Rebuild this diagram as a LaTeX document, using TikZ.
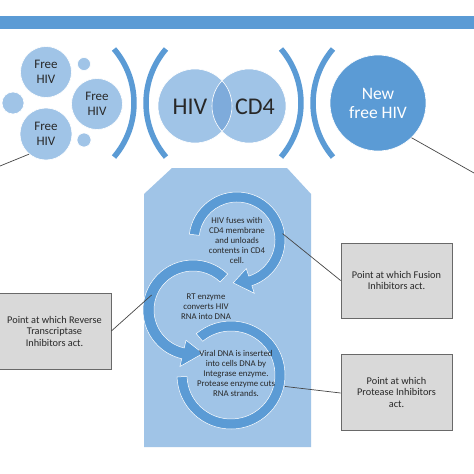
\documentclass[tikz,border=0pt]{standalone}
\usepackage{fontspec}
\setmainfont{Carlito}
\usetikzlibrary{calc}
\definecolor{arcblue}{RGB}{91,155,213}
\definecolor{lightblue}{RGB}{160,196,231}
\definecolor{panelblue}{RGB}{160,196,231}
\definecolor{lensblue}{RGB}{126,171,219}
\definecolor{boxgray}{RGB}{217,217,217}
\definecolor{boxline}{RGB}{105,105,105}
\definecolor{txt}{RGB}{40,40,40}
\definecolor{conn}{RGB}{70,70,70}
\tikzset{
  bubble/.style={circle, fill=lightblue, draw=white, line width=0.6pt, inner sep=0pt, text=txt, align=center},
  freetxt/.style={font=\fontsize{13}{15}\selectfont},
  bigtxt/.style={font=\fontsize{24}{28}\selectfont},
  bracket/.style={draw=arcblue, line width=5.5pt},
  ring/.style={fill=arcblue, draw=white, line width=0.5pt},
  paneltxt/.style={text=txt, align=center, font=\fontsize{8.8}{10}\selectfont},
  graybox/.style={fill=boxgray, draw=boxline, line width=0.8pt, text=txt, align=center, font=\fontsize{10.3}{11.5}\selectfont, inner sep=0pt},
  connector/.style={draw=conn, line width=0.7pt}
}
\begin{document}
\begin{tikzpicture}[x=1pt,y=-1pt]
\useasboundingbox (0,0) rectangle (474,474);
\fill[white] (0,0) rectangle (474,474);
% top bar
\fill[arcblue] (0,16) rectangle (474,29);
% small bubbles
\node[bubble, minimum size=13pt] (s1) at (84,64) {};
\node[bubble, minimum size=22pt] (s2) at (13,103) {};
\node[bubble, minimum size=14pt] (s3) at (84,140) {};
% free HIV bubbles
\node[bubble, freetxt, minimum size=51pt] (f1) at (46,72) {Free\\HIV};
\node[bubble, freetxt, minimum size=51pt] (f2) at (97,104) {Free\\HIV};
\node[bubble, freetxt, minimum size=52pt] (f3) at (46,134) {Free\\HIV};
% brackets
\draw[bracket] (114,49) arc[start angle=-40.6, end angle=40.6, radius=83];
\draw[bracket] (166,49) arc[start angle=220.6, end angle=139.4, radius=83];
\draw[bracket] (281,49) arc[start angle=-40.6, end angle=40.6, radius=83];
\draw[bracket] (333,49) arc[start angle=220.6, end angle=139.4, radius=83];
% HIV and CD4
\fill[lightblue] (195,106) circle[radius=37];
\fill[lightblue] (249,106) circle[radius=37];
\begin{scope}
\clip (195,106) circle[radius=37];
\fill[lensblue] (249,106) circle[radius=37];
\end{scope}
\draw[white, line width=0.6pt] (195,106) circle[radius=37];
\draw[white, line width=0.6pt] (249,106) circle[radius=37];
\node[text=txt, bigtxt] (hiv) at (190,107) {HIV};
\node[text=txt, bigtxt] (cd4) at (255,107) {CD4};
% New free HIV
\node[circle, fill=arcblue, draw=white, line width=0.6pt, minimum size=96pt, inner sep=0pt, text=white, align=center, font=\fontsize{17.5}{19}\selectfont] (nf) at (378,103) {New\\free HIV};
% panel
\fill[panelblue] (172,168) -- (287,168) -- (311,194) -- (311,447) -- (144,447) -- (144,194) -- cycle;
% ring arrows
\coordinate (c1) at (237,240);
\coordinate (c2) at (193,310);
\coordinate (c3) at (231,375);
\fill[ring] ($(c3)+(230:44)$) -- ($(c3)+(230:54)$) arc[start angle=230, end angle=538, radius=54]
  -- ($(c3)+(538:44)$) arc[start angle=538, end angle=230, radius=44] -- cycle;
\fill[ring] ($(c2)+(-46:39)$) -- ($(c2)+(-46:50)$) arc[start angle=-46, end angle=-257, radius=50]
  -- ($(c2)+(-257:58)$) -- ($(c2)+(-283:44.5)$) -- ($(c2)+(-257:31)$) -- ($(c2)+(-257:39)$)
  arc[start angle=-257, end angle=-46, radius=39] -- cycle;
\fill[ring] ($(c1)+(187:38)$) -- ($(c1)+(187:48)$) arc[start angle=187, end angle=432, radius=48]
  -- ($(c1)+(432:56)$) -- ($(c1)+(455:43)$) -- ($(c1)+(432:30)$) -- ($(c1)+(432:38)$)
  arc[start angle=432, end angle=187, radius=38] -- cycle;
% panel texts
\node[paneltxt] (t1) at (237,240) {HIV fuses with\\CD4 membrane\\and unloads\\contents in CD4\\cell.};
\node[paneltxt] (t2) at (206,307) {RT enzyme\\converts HIV\\RNA into DNA};
\node[paneltxt] (t3) at (236,373) {Viral DNA is inserted\\into cells DNA by\\Integrase enzyme.\\Protease enzyme cuts\\RNA strands.};
% anchor points on rings
\coordinate (p1) at ($(c1)+(-8:46)$);
\coordinate (p2) at ($(c2)+(180+20:44)$);
\coordinate (p3) at ($(c3)+(12:55)$);
% gray boxes
\node[graybox, minimum width=113pt, minimum height=76pt] (rev) at (54.5,331) {Point at which Reverse\\Transcriptase\\Inhibitors act.};
\node[graybox, minimum width=111pt, minimum height=75pt] (fus) at (396.5,280.5) {Point at which Fusion\\Inhibitors act.};
\node[graybox, minimum width=111pt, minimum height=76pt] (pro) at (396.5,392) {Point at which\\Protease Inhibitors\\act.};
% free ends
\coordinate (e1) at (0,166);
\coordinate (e2) at (474,173);
% connectors
\draw[connector] (f3.230) -- (e1);
\draw[connector] (nf.-46) -- (e2);
\draw[connector] (rev.east) -- (p2);
\draw[connector] (p1) -- (fus.west);
\draw[connector] (p3) -- ($(pro.west)+(0,1)$);
\end{tikzpicture}
\end{document}
